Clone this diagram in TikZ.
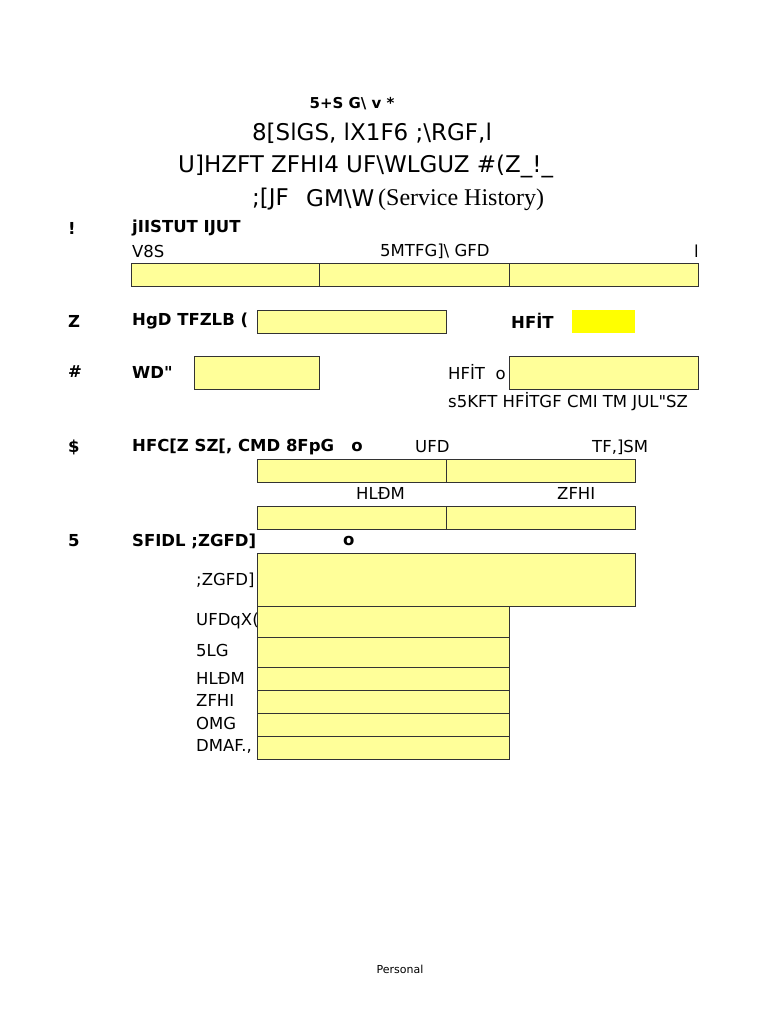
\documentclass[tikz,border=0pt]{standalone}
\usepackage{fontspec}
\setmainfont{DejaVu Sans}
\newfontfamily\seriff{Liberation Serif}
\definecolor{ly}{HTML}{FFFF99}
\definecolor{by}{HTML}{FFFF00}
\begin{document}
\begin{tikzpicture}[x=1pt,y=-1pt,
  txt/.style={anchor=west,inner sep=0,font=\fontsize{16.5}{16.5}\selectfont},
  btxt/.style={txt,font=\fontsize{16.5}{16.5}\selectfont\bfseries},
  fbox/.style={draw=black!80,fill=ly,line width=0.6pt}]
\useasboundingbox (0,0) rectangle (768,1024);
\node[inner sep=0,font=\fontsize{15}{15}\selectfont\bfseries] (t0) at (352,104) {5+S G\textbackslash{} v *};
\node[inner sep=0,font=\fontsize{23}{23}\selectfont] (t1) at (372,133) {8[SlGS, lX1F6 ;\textbackslash{}RGF,l};
\node[txt,font=\fontsize{23}{23}\selectfont] (t2) at (178,166) {U]HZFT ZFHI4 UF\textbackslash{}WLGUZ \#(Z\_!\_};
\node[txt,font=\fontsize{23}{23}\selectfont] (t3) at (252,199) {;[JF};
\node[txt,font=\fontsize{23}{23}\selectfont] (t3b) at (306,199) {GM\textbackslash{}W};
\node[txt,font=\fontsize{24}{24}\selectfont\seriff] (t4) at (378,200) {(Service History)};
% row 1
\node[btxt] (n1) at (68,228) {!};
\node[btxt] (l1) at (132,228) {jIISTUT IJUT};
\node[txt] (a1) at (132,251) {V8S};
\node[txt] (a2) at (380,251) {5MTFG]\textbackslash{} GFD};
\node[txt] (a3) at (694,251) {l};
\draw[fbox] (131,263) rectangle (319,286) (319,263) rectangle (509,286) (509,263) rectangle (698,286);
% row 2
\node[btxt] (n2) at (68,321) {Z};
\node[btxt] (l2) at (132,321) {HgD TFZLB (};
\draw[fbox] (257,310) rectangle (446,333);
\node[btxt] (l2b) at (511,321) {HFİT};
\fill[by] (572,310) rectangle (635,333);
% row 3
\node[btxt] (n3) at (68,372) {\#};
\node[btxt] (l3) at (132,372) {WD\textquotedbl};
\draw[fbox] (194,356) rectangle (319,389);
\node[txt] (l3b) at (448,372) {HFİT\ \ o};
\draw[fbox] (509,356) rectangle (698,389);
\node[txt] (l3c) at (448,402) {s5KFT HFİTGF CMI TM JUL\textquotedbl SZ};
% row 4
\node[btxt] (n4) at (68,447) {\$};
\node[btxt] (l4) at (132,447) {HFC[Z SZ[, CMD 8FpG\ \ \ o};
\node[txt] (l4a) at (415,447) {UFD};
\node[txt] (l4b) at (592,447) {TF,]SM};
\draw[fbox] (257,459) rectangle (446,482) (446,459) rectangle (635,482);
\node[txt] (l4c) at (356,493) {HLĐM};
\node[txt] (l4d) at (557,493) {ZFHI};
\draw[fbox] (257,506) rectangle (446,529) (446,506) rectangle (635,529);
% row 5
\node[btxt] (n5) at (68,541) {5};
\node[btxt] (l5) at (132,541) {SFIDL ;ZGFD]};
\node[btxt] (l5o) at (343,541) {o};
\node[txt] (m1) at (196,580) {;ZGFD]};
\node[txt] (m2) at (196,621) {UFDqX(};
\node[txt] (m3) at (196,650) {5LG};
\node[txt] (m4) at (196,678) {HLĐM};
\node[txt] (m5) at (196,700) {ZFHI};
\node[txt] (m6) at (196,723) {OMG};
\node[txt] (m7) at (196,746) {DMAF.,};
\draw[fbox] (257,553) rectangle (635,606);
\foreach \a/\b in {606/637,637/667,667/690,690/713,713/736,736/759}
  \draw[fbox] (257,\a) rectangle (509,\b);
\node[inner sep=0,font=\fontsize{11}{11}\selectfont] (p) at (400,969) {Personal};
\end{tikzpicture}
\end{document}
